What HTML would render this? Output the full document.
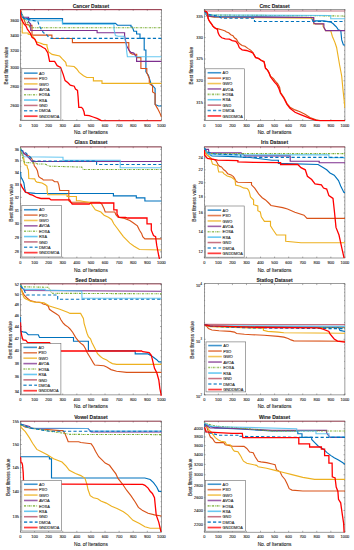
<!DOCTYPE html><html><head><meta charset="utf-8"><title>Convergence curves</title>
<style>html,body{margin:0;padding:0;background:#fff;}svg{display:block;}text{font-family:"Liberation Sans", sans-serif;stroke:#333;stroke-width:0.1px;}</style></head><body>
<svg width="354" height="550" viewBox="0 0 354 550">
<rect x="0" y="0" width="354" height="550" fill="#fff"/>
<clipPath id="c1"><rect x="20.15" y="8.4" width="141.55" height="113.2"/></clipPath>
<text x="90.92" y="7.9" font-size="5" font-weight="bold" text-anchor="middle" fill="#1a1a1a">Cancer Dataset</text>
<rect x="20.45" y="9.4" width="140.95" height="111.2" fill="none" stroke="#5a5a5a" stroke-width="0.6"/>
<path d="M20.45 120.6v-1.4M20.45 9.4v1.4M34.55 120.6v-1.4M34.55 9.4v1.4M48.64 120.6v-1.4M48.64 9.4v1.4M62.73 120.6v-1.4M62.73 9.4v1.4M76.83 120.6v-1.4M76.83 9.4v1.4M90.93 120.6v-1.4M90.93 9.4v1.4M105.02 120.6v-1.4M105.02 9.4v1.4M119.12 120.6v-1.4M119.12 9.4v1.4M133.21 120.6v-1.4M133.21 9.4v1.4M147.31 120.6v-1.4M147.31 9.4v1.4M161.4 120.6v-1.4M161.4 9.4v1.4M20.45 20.14h1.4M161.4 20.14h-1.4M20.45 35.16h1.4M161.4 35.16h-1.4M20.45 51.09h1.4M161.4 51.09h-1.4M20.45 68.05h1.4M161.4 68.05h-1.4M20.45 86.18h1.4M161.4 86.18h-1.4M20.45 105.66h1.4M161.4 105.66h-1.4M20.45 115.96h0.8M161.4 115.96h-0.8M20.45 110.76h0.8M161.4 110.76h-0.8M20.45 100.65h0.8M161.4 100.65h-0.8M20.45 95.74h0.8M161.4 95.74h-0.8M20.45 90.92h0.8M161.4 90.92h-0.8M20.45 81.53h0.8M161.4 81.53h-0.8M20.45 76.96h0.8M161.4 76.96h-0.8M20.45 72.47h0.8M161.4 72.47h-0.8M20.45 63.71h0.8M161.4 63.71h-0.8M20.45 59.43h0.8M161.4 59.43h-0.8M20.45 55.23h0.8M161.4 55.23h-0.8M20.45 47.02h0.8M161.4 47.02h-0.8M20.45 43h0.8M161.4 43h-0.8M20.45 39.05h0.8M161.4 39.05h-0.8M20.45 31.32h0.8M161.4 31.32h-0.8M20.45 27.54h0.8M161.4 27.54h-0.8M20.45 23.81h0.8M161.4 23.81h-0.8M20.45 16.51h0.8M161.4 16.51h-0.8M20.45 12.94h0.8M161.4 12.94h-0.8" stroke="#5a5a5a" stroke-width="0.5" fill="none"/>
<g clip-path="url(#c1)" fill="none" stroke-linejoin="miter" stroke-linecap="butt">
<polyline points="20.5,11.5 22.2,17.2 24.4,18.6 62.5,18.6 62.5,23.3 115.4,23.3 117.5,25.2 131,25.2 131,27 132.4,27 133.8,31.2 136.6,31.2 136.6,34 140,34 140,38.4 144.2,38.4 144.2,50 145.9,50 145.9,71.8 148.4,75.2 150.9,83.5 155.1,88.5 155.1,104.4 158.5,106 161.5,106" stroke="#0072BD" stroke-width="1.15"/>
<polyline points="20.5,11 23.5,18.2 25.8,24.2 29.9,25.4 32,25.4 32,35.1 51.9,35.1 51.9,38.5 72.4,38.5 72.4,42.6 128.8,42.6 128.8,49.6 130.3,53.1 132.4,54.2 136.7,54.2 136.7,57.6 140.9,57.6 140.9,68.5 146.8,68.5 146.8,72.6 149.3,78.5 149.3,83.5 152.6,86 152.6,91.9 155.1,93.5 155.1,104.4 157.6,108.6 160.1,113.6 161.5,117" stroke="#D95319" stroke-width="1.15"/>
<polyline points="20.5,11.4 22.2,19.9 22.2,33 28.2,33 28.2,34.3 30,34.5 32.4,36 34.1,38.1 35.4,40.2 36.2,41.9 39.2,42.7 41.7,43.6 43.4,44.4 47,44.8 47,46.5 48.6,52 52.1,54.4 59.7,56 62.3,58.9 65.7,62.3 66.5,65.7 74.1,66.5 76.7,69 79.2,72.4 83.5,75.8 86.8,77.5 93.4,77.5 93.4,80.8 102,80.8 102,83.3 161.5,83.3" stroke="#EDB120" stroke-width="1.15"/>
<polyline points="20.5,10.5 22.2,17.2 28.6,17.3 28.6,22 30.7,24 30.7,30.5 97.1,30.5 97.1,32.7 124.6,32.7 124.6,35.5 126.7,46.1 129.5,51 131,52.4 133.8,53.1 136.6,57.4 136.6,61.4 161.5,61.4" stroke="#7E2F8E" stroke-width="1.15"/>
<polyline points="20.5,10 22.9,15.8 28.6,24.2 30,27.8 161.5,27.8" stroke="#77AC30" stroke-width="1.1" stroke-dasharray="2 0.9 0.7 0.9"/>
<polyline points="20.5,12 23.6,17.9 29.3,20.7 62.5,20.7 62.5,24.2 114,24.2 114,29.1 115.4,35.5 118.2,36.2 123.9,36.2 126,43.2 126.7,51.7 127.4,56.7 161.5,56.7" stroke="#4DBEEE" stroke-width="1.15" stroke-opacity="0.85"/>
<polyline points="20.45,9.6 161.4,9.6" stroke="#A2142F" stroke-width="1.1" stroke-opacity="0.6"/>
<polyline points="20.5,12 24,18.6 37.8,21.4 39.2,25.7 41.3,29.2 43.4,32.7 46.2,34.1 48.4,37 51.2,38.4 161.5,38.4" stroke="#0072BD" stroke-width="1.15" stroke-dasharray="3.2 2.2"/>
<polyline points="20.5,10 20.5,17.3 22.7,21.6 24.4,24.5 25.6,25.4 26.5,27.1 27.3,29.2 29,31.3 30.3,33.4 31.1,35.1 32,37.2 33.3,38.1 35,39.4 36.2,41.9 37.1,44.4 39.2,45.3 41.1,46.2 43,47.5 45.3,48.7 47.9,53 49.6,61.4 54.6,61.4 57.2,65.7 60.6,67.4 63.1,74.1 65.1,80.6 67.7,82.6 70.3,85.2 74.2,86.2 75.5,89.1 77.5,90.4 78.1,96.9 78.8,107.3 81.4,107.3 82.7,108.6 84,111.8 84.6,115.1 89.2,115.7 93.1,117 97,118.3 99.6,119.6 101.5,120.9 161.5,120.9" stroke="#FF0000" stroke-width="1.3"/>
</g>
<text x="20.45" y="126.7" font-size="4.2" text-anchor="middle" fill="#141414" textLength="2.2" lengthAdjust="spacingAndGlyphs">0</text>
<text x="34.55" y="126.7" font-size="4.2" text-anchor="middle" fill="#141414" textLength="6.59" lengthAdjust="spacingAndGlyphs">100</text>
<text x="48.64" y="126.7" font-size="4.2" text-anchor="middle" fill="#141414" textLength="6.59" lengthAdjust="spacingAndGlyphs">200</text>
<text x="62.73" y="126.7" font-size="4.2" text-anchor="middle" fill="#141414" textLength="6.59" lengthAdjust="spacingAndGlyphs">300</text>
<text x="76.83" y="126.7" font-size="4.2" text-anchor="middle" fill="#141414" textLength="6.59" lengthAdjust="spacingAndGlyphs">400</text>
<text x="90.93" y="126.7" font-size="4.2" text-anchor="middle" fill="#141414" textLength="6.59" lengthAdjust="spacingAndGlyphs">500</text>
<text x="105.02" y="126.7" font-size="4.2" text-anchor="middle" fill="#141414" textLength="6.59" lengthAdjust="spacingAndGlyphs">600</text>
<text x="119.12" y="126.7" font-size="4.2" text-anchor="middle" fill="#141414" textLength="6.59" lengthAdjust="spacingAndGlyphs">700</text>
<text x="133.21" y="126.7" font-size="4.2" text-anchor="middle" fill="#141414" textLength="6.59" lengthAdjust="spacingAndGlyphs">800</text>
<text x="147.31" y="126.7" font-size="4.2" text-anchor="middle" fill="#141414" textLength="6.59" lengthAdjust="spacingAndGlyphs">900</text>
<text x="161.4" y="126.7" font-size="4.2" text-anchor="middle" fill="#141414" textLength="8.78" lengthAdjust="spacingAndGlyphs">1000</text>
<text x="90.92" y="134.1" font-size="4.8" text-anchor="middle" fill="#141414">No. of Iterations</text>
<text x="19.05" y="21.54" font-size="4.2" text-anchor="end" fill="#141414" textLength="8.78" lengthAdjust="spacingAndGlyphs">3600</text>
<text x="19.05" y="36.56" font-size="4.2" text-anchor="end" fill="#141414" textLength="8.78" lengthAdjust="spacingAndGlyphs">3400</text>
<text x="19.05" y="52.49" font-size="4.2" text-anchor="end" fill="#141414" textLength="8.78" lengthAdjust="spacingAndGlyphs">3200</text>
<text x="19.05" y="69.45" font-size="4.2" text-anchor="end" fill="#141414" textLength="8.78" lengthAdjust="spacingAndGlyphs">3000</text>
<text x="19.05" y="87.58" font-size="4.2" text-anchor="end" fill="#141414" textLength="8.78" lengthAdjust="spacingAndGlyphs">2800</text>
<text x="19.05" y="107.06" font-size="4.2" text-anchor="end" fill="#141414" textLength="8.78" lengthAdjust="spacingAndGlyphs">2600</text>
<text x="8.2" y="65.6" font-size="4.8" text-anchor="middle" fill="#141414" transform="rotate(-90 8.2 65.6)">Best fitness value</text>
<rect x="21.8" y="68.4" width="39.1" height="51.8" fill="#fff" stroke="#6a6a6a" stroke-width="0.6"/>
<line x1="24" y1="73.15" x2="37.6" y2="73.15" stroke="#0072BD" stroke-width="1.6" stroke-opacity="0.75"/>
<text x="39" y="74.8" font-size="4.25" fill="#141414" textLength="5.61" lengthAdjust="spacingAndGlyphs">AO</text>
<line x1="24" y1="78.53" x2="37.6" y2="78.53" stroke="#D95319" stroke-width="1.6" stroke-opacity="0.75"/>
<text x="39" y="80.18" font-size="4.25" fill="#141414" textLength="8.19" lengthAdjust="spacingAndGlyphs">PSO</text>
<line x1="24" y1="83.91" x2="37.6" y2="83.91" stroke="#EDB120" stroke-width="1.6" stroke-opacity="0.75"/>
<text x="39" y="85.56" font-size="4.25" fill="#141414" textLength="9.7" lengthAdjust="spacingAndGlyphs">GWO</text>
<line x1="24" y1="89.29" x2="37.6" y2="89.29" stroke="#7E2F8E" stroke-width="1.6" stroke-opacity="0.75"/>
<text x="39" y="90.94" font-size="4.25" fill="#141414" textLength="10.78" lengthAdjust="spacingAndGlyphs">AVOA</text>
<line x1="24" y1="94.67" x2="37.6" y2="94.67" stroke="#77AC30" stroke-width="1.55" stroke-dasharray="2 0.9 0.7 0.9" stroke-opacity="0.75"/>
<text x="39" y="96.32" font-size="4.25" fill="#141414" textLength="10.78" lengthAdjust="spacingAndGlyphs">EOSA</text>
<line x1="24" y1="100.05" x2="37.6" y2="100.05" stroke="#4DBEEE" stroke-width="1.6" stroke-opacity="0.85"/>
<text x="39" y="101.7" font-size="4.25" fill="#141414" textLength="7.98" lengthAdjust="spacingAndGlyphs">RSA</text>
<line x1="24" y1="105.43" x2="37.6" y2="105.43" stroke="#A2142F" stroke-width="1.55" stroke-opacity="0.6"/>
<text x="39" y="107.08" font-size="4.25" fill="#141414" textLength="8.62" lengthAdjust="spacingAndGlyphs">GND</text>
<line x1="24" y1="110.81" x2="37.6" y2="110.81" stroke="#0072BD" stroke-width="1.6" stroke-dasharray="3.2 2.2" stroke-opacity="0.75"/>
<text x="39" y="112.46" font-size="4.25" fill="#141414" textLength="11.64" lengthAdjust="spacingAndGlyphs">DMOA</text>
<line x1="24" y1="116.19" x2="37.6" y2="116.19" stroke="#FF0000" stroke-width="1.75" stroke-opacity="0.75"/>
<text x="39" y="117.84" font-size="4.25" fill="#141414" textLength="20.26" lengthAdjust="spacingAndGlyphs">GNDDMOA</text>
<clipPath id="c2"><rect x="204" y="8.4" width="141.2" height="113.2"/></clipPath>
<text x="274.6" y="7.9" font-size="5" font-weight="bold" text-anchor="middle" fill="#1a1a1a">Cmc Dataset</text>
<rect x="204.3" y="9.4" width="140.6" height="111.2" fill="none" stroke="#5a5a5a" stroke-width="0.6"/>
<path d="M204.3 120.6v-1.4M204.3 9.4v1.4M218.36 120.6v-1.4M218.36 9.4v1.4M232.42 120.6v-1.4M232.42 9.4v1.4M246.48 120.6v-1.4M246.48 9.4v1.4M260.54 120.6v-1.4M260.54 9.4v1.4M274.6 120.6v-1.4M274.6 9.4v1.4M288.66 120.6v-1.4M288.66 9.4v1.4M302.72 120.6v-1.4M302.72 9.4v1.4M316.78 120.6v-1.4M316.78 9.4v1.4M330.84 120.6v-1.4M330.84 9.4v1.4M344.9 120.6v-1.4M344.9 9.4v1.4M204.3 16.45h1.4M344.9 16.45h-1.4M204.3 37.57h1.4M344.9 37.57h-1.4M204.3 59.01h1.4M344.9 59.01h-1.4M204.3 80.78h1.4M344.9 80.78h-1.4M204.3 102.9h1.4M344.9 102.9h-1.4M204.3 116.34h0.8M344.9 116.34h-0.8M204.3 111.84h0.8M344.9 111.84h-0.8M204.3 107.36h0.8M344.9 107.36h-0.8M204.3 98.45h0.8M344.9 98.45h-0.8M204.3 94.01h0.8M344.9 94.01h-0.8M204.3 89.59h0.8M344.9 89.59h-0.8M204.3 85.18h0.8M344.9 85.18h-0.8M204.3 76.4h0.8M344.9 76.4h-0.8M204.3 72.03h0.8M344.9 72.03h-0.8M204.3 67.68h0.8M344.9 67.68h-0.8M204.3 63.34h0.8M344.9 63.34h-0.8M204.3 54.69h0.8M344.9 54.69h-0.8M204.3 50.39h0.8M344.9 50.39h-0.8M204.3 46.1h0.8M344.9 46.1h-0.8M204.3 41.83h0.8M344.9 41.83h-0.8M204.3 33.32h0.8M344.9 33.32h-0.8M204.3 29.08h0.8M344.9 29.08h-0.8M204.3 24.86h0.8M344.9 24.86h-0.8M204.3 20.65h0.8M344.9 20.65h-0.8M204.3 12.26h0.8M344.9 12.26h-0.8" stroke="#5a5a5a" stroke-width="0.5" fill="none"/>
<g clip-path="url(#c2)" fill="none" stroke-linejoin="miter" stroke-linecap="butt">
<polyline points="204.5,11 206.5,15 215,16.5 311.2,17.5 312.9,20.9 323.9,20.9 330.7,22.1 333.2,23.8 334.9,25.5 336.6,27.2 338.3,29.7 340.8,30.6 341.7,39.9 343.4,45 345,45" stroke="#0072BD" stroke-width="1.15"/>
<polyline points="204.5,11 206.5,11.8 207.4,13.5 207.9,18 208.7,20 209.6,21.3 211.8,24.4 213.2,26.5 215.3,28.2 217.4,28.6 222.4,30 225.2,31 226.6,32.1 228.7,32.8 230.8,34.7 233,35.7 234.4,37.8 236.5,39.2 237.9,42 240,44.1 242.1,45.5 245,46.2 247.8,48.4 250.6,50.1 252.8,52.3 255.6,57.2 258.5,58.6 261.3,60.2 264.1,61.3 265.5,67.8 267.7,70.4 269.1,72.6 270.5,76.3 273.5,78.6 275.5,81.3 277.6,83.6 279.6,87.3 280.6,92.5 284,97.6 287,103.6 290,107.2 295,109.9 300,111.7 305,114.3 310,117.6 316,119.8 320,120.6 345,120.6" stroke="#D95319" stroke-width="1.15"/>
<polyline points="204.5,11 207,16 215,17.5 313.7,18.2 313.7,23.8 323,23.8 323,26.3 325.6,30.6 330.7,30.6 332.4,36.5 334.9,42.4 336.6,47.5 339.6,65 341.7,76 343,90 345,108" stroke="#EDB120" stroke-width="1.15"/>
<polyline points="204.5,11 207,16 215,17 313.7,17.5 313.7,23 315.4,23.8 323.9,23.8 323.9,27.2 325.6,30.6 345,30.6" stroke="#7E2F8E" stroke-width="1.15"/>
<polyline points="204.5,10.5 207,15 345,16" stroke="#77AC30" stroke-width="1.1" stroke-dasharray="2 0.9 0.7 0.9"/>
<polyline points="204.5,11 206,14.8 330.7,15.5 330.7,18.7 345,18.7" stroke="#4DBEEE" stroke-width="1.15" stroke-opacity="0.85"/>
<polyline points="204.3,11 344.9,11" stroke="#A2142F" stroke-width="1.1" stroke-opacity="0.6"/>
<polyline points="204.5,11 207,14 219,16.5 221.5,18.2 254.5,18.2 254.5,21.5 345,21.5" stroke="#0072BD" stroke-width="1.15" stroke-dasharray="3.2 2.2"/>
<polyline points="204.5,11 206.5,11.8 207.6,13.5 208.1,18 208.9,20 209.6,21.3 211.8,24.4 213.2,26.5 215.3,28.2 217.4,29.3 218.1,32.8 219.5,35.7 221.7,37.8 225.2,38.9 229.4,39.2 232.2,40.6 235.8,41.3 237.9,44.1 239.3,47.7 242.1,49.8 246.4,50.5 250.6,51.9 252.8,53 255.6,57.7 258.5,58.4 261.3,60.5 264.1,62 265.5,68.3 267.7,70.4 269.1,73.2 270.5,76.8 272.6,79.6 274.7,82.4 276.8,84.5 279,88.8 280.4,93 284,98.5 287,104.3 290,108.3 295,112.3 300,114.3 305,116.3 310,118.3 316,120.3 320,120.7 345,120.7" stroke="#FF0000" stroke-width="1.3"/>
</g>
<text x="204.3" y="126.7" font-size="4.2" text-anchor="middle" fill="#141414" textLength="2.2" lengthAdjust="spacingAndGlyphs">0</text>
<text x="218.36" y="126.7" font-size="4.2" text-anchor="middle" fill="#141414" textLength="6.59" lengthAdjust="spacingAndGlyphs">100</text>
<text x="232.42" y="126.7" font-size="4.2" text-anchor="middle" fill="#141414" textLength="6.59" lengthAdjust="spacingAndGlyphs">200</text>
<text x="246.48" y="126.7" font-size="4.2" text-anchor="middle" fill="#141414" textLength="6.59" lengthAdjust="spacingAndGlyphs">300</text>
<text x="260.54" y="126.7" font-size="4.2" text-anchor="middle" fill="#141414" textLength="6.59" lengthAdjust="spacingAndGlyphs">400</text>
<text x="274.6" y="126.7" font-size="4.2" text-anchor="middle" fill="#141414" textLength="6.59" lengthAdjust="spacingAndGlyphs">500</text>
<text x="288.66" y="126.7" font-size="4.2" text-anchor="middle" fill="#141414" textLength="6.59" lengthAdjust="spacingAndGlyphs">600</text>
<text x="302.72" y="126.7" font-size="4.2" text-anchor="middle" fill="#141414" textLength="6.59" lengthAdjust="spacingAndGlyphs">700</text>
<text x="316.78" y="126.7" font-size="4.2" text-anchor="middle" fill="#141414" textLength="6.59" lengthAdjust="spacingAndGlyphs">800</text>
<text x="330.84" y="126.7" font-size="4.2" text-anchor="middle" fill="#141414" textLength="6.59" lengthAdjust="spacingAndGlyphs">900</text>
<text x="344.9" y="126.7" font-size="4.2" text-anchor="middle" fill="#141414" textLength="8.78" lengthAdjust="spacingAndGlyphs">1000</text>
<text x="274.6" y="134.1" font-size="4.8" text-anchor="middle" fill="#141414">No. of Iterations</text>
<text x="202.9" y="17.85" font-size="4.2" text-anchor="end" fill="#141414" textLength="6.59" lengthAdjust="spacingAndGlyphs">335</text>
<text x="202.9" y="38.97" font-size="4.2" text-anchor="end" fill="#141414" textLength="6.59" lengthAdjust="spacingAndGlyphs">330</text>
<text x="202.9" y="60.41" font-size="4.2" text-anchor="end" fill="#141414" textLength="6.59" lengthAdjust="spacingAndGlyphs">325</text>
<text x="202.9" y="82.18" font-size="4.2" text-anchor="end" fill="#141414" textLength="6.59" lengthAdjust="spacingAndGlyphs">320</text>
<text x="202.9" y="104.3" font-size="4.2" text-anchor="end" fill="#141414" textLength="6.59" lengthAdjust="spacingAndGlyphs">315</text>
<text x="193.45" y="65.6" font-size="4.8" text-anchor="middle" fill="#141414" transform="rotate(-90 193.45 65.6)">Best fitness value</text>
<rect x="205.4" y="68.8" width="39.2" height="51.8" fill="#fff" stroke="#6a6a6a" stroke-width="0.6"/>
<line x1="207.6" y1="72.75" x2="221.2" y2="72.75" stroke="#0072BD" stroke-width="1.6" stroke-opacity="0.75"/>
<text x="222.6" y="74.4" font-size="4.25" fill="#141414" textLength="5.61" lengthAdjust="spacingAndGlyphs">AO</text>
<line x1="207.6" y1="78.15" x2="221.2" y2="78.15" stroke="#D95319" stroke-width="1.6" stroke-opacity="0.75"/>
<text x="222.6" y="79.8" font-size="4.25" fill="#141414" textLength="8.19" lengthAdjust="spacingAndGlyphs">PSO</text>
<line x1="207.6" y1="83.55" x2="221.2" y2="83.55" stroke="#EDB120" stroke-width="1.6" stroke-opacity="0.75"/>
<text x="222.6" y="85.2" font-size="4.25" fill="#141414" textLength="9.7" lengthAdjust="spacingAndGlyphs">GWO</text>
<line x1="207.6" y1="88.95" x2="221.2" y2="88.95" stroke="#7E2F8E" stroke-width="1.6" stroke-opacity="0.75"/>
<text x="222.6" y="90.6" font-size="4.25" fill="#141414" textLength="10.78" lengthAdjust="spacingAndGlyphs">AVOA</text>
<line x1="207.6" y1="94.35" x2="221.2" y2="94.35" stroke="#77AC30" stroke-width="1.55" stroke-dasharray="2 0.9 0.7 0.9" stroke-opacity="0.75"/>
<text x="222.6" y="96" font-size="4.25" fill="#141414" textLength="10.78" lengthAdjust="spacingAndGlyphs">EOSA</text>
<line x1="207.6" y1="99.75" x2="221.2" y2="99.75" stroke="#4DBEEE" stroke-width="1.6" stroke-opacity="0.85"/>
<text x="222.6" y="101.4" font-size="4.25" fill="#141414" textLength="7.98" lengthAdjust="spacingAndGlyphs">RSA</text>
<line x1="207.6" y1="105.15" x2="221.2" y2="105.15" stroke="#A2142F" stroke-width="1.55" stroke-opacity="0.6"/>
<text x="222.6" y="106.8" font-size="4.25" fill="#141414" textLength="8.62" lengthAdjust="spacingAndGlyphs">GND</text>
<line x1="207.6" y1="110.55" x2="221.2" y2="110.55" stroke="#0072BD" stroke-width="1.6" stroke-dasharray="3.2 2.2" stroke-opacity="0.75"/>
<text x="222.6" y="112.2" font-size="4.25" fill="#141414" textLength="11.64" lengthAdjust="spacingAndGlyphs">DMOA</text>
<line x1="207.6" y1="115.95" x2="221.2" y2="115.95" stroke="#FF0000" stroke-width="1.75" stroke-opacity="0.75"/>
<text x="222.6" y="117.6" font-size="4.25" fill="#141414" textLength="20.26" lengthAdjust="spacingAndGlyphs">GNDDMOA</text>
<clipPath id="c3"><rect x="20.15" y="145.8" width="141.55" height="113.2"/></clipPath>
<text x="90.92" y="144.3" font-size="5" font-weight="bold" text-anchor="middle" fill="#1a1a1a">Glass Dataset</text>
<rect x="20.45" y="146.8" width="140.95" height="111.2" fill="none" stroke="#5a5a5a" stroke-width="0.6"/>
<path d="M20.45 258v-1.4M20.45 146.8v1.4M34.55 258v-1.4M34.55 146.8v1.4M48.64 258v-1.4M48.64 146.8v1.4M62.73 258v-1.4M62.73 146.8v1.4M76.83 258v-1.4M76.83 146.8v1.4M90.93 258v-1.4M90.93 146.8v1.4M105.02 258v-1.4M105.02 146.8v1.4M119.12 258v-1.4M119.12 146.8v1.4M133.21 258v-1.4M133.21 146.8v1.4M147.31 258v-1.4M147.31 146.8v1.4M161.4 258v-1.4M161.4 146.8v1.4M20.45 149.27h1.4M161.4 149.27h-1.4M20.45 160.77h1.4M161.4 160.77h-1.4M20.45 172.6h1.4M161.4 172.6h-1.4M20.45 184.78h1.4M161.4 184.78h-1.4M20.45 197.34h1.4M161.4 197.34h-1.4M20.45 210.3h1.4M161.4 210.3h-1.4M20.45 223.68h1.4M161.4 223.68h-1.4M20.45 237.51h1.4M161.4 237.51h-1.4M20.45 251.84h1.4M161.4 251.84h-1.4M20.45 244.61h0.8M161.4 244.61h-0.8M20.45 230.54h0.8M161.4 230.54h-0.8M20.45 216.93h0.8M161.4 216.93h-0.8M20.45 203.77h0.8M161.4 203.77h-0.8M20.45 191.01h0.8M161.4 191.01h-0.8M20.45 178.65h0.8M161.4 178.65h-0.8M20.45 166.64h0.8M161.4 166.64h-0.8M20.45 154.98h0.8M161.4 154.98h-0.8" stroke="#5a5a5a" stroke-width="0.5" fill="none"/>
<g clip-path="url(#c3)" fill="none" stroke-linejoin="miter" stroke-linecap="butt">
<polyline points="20.5,171.7 21,177.1 22,178.9 23,180.7 23.9,183 24.8,188.9 25.7,192.5 29.8,192.9 35.2,193.4 113.4,193.5 113.4,195.8 136.3,195.8 136.3,197.9 144.9,197.9 144.9,201 161.5,201" stroke="#0072BD" stroke-width="1.15"/>
<polyline points="20.5,151 23.4,153.6 27,155 28.8,155.9 31.1,157.7 32.5,160 33.4,161.3 34.3,165.8 36.1,168.1 37.4,170.8 38.3,174.9 38.8,176.7 40.6,178 42.4,178.9 43.3,180 52.5,180 54.6,181.7 57.7,181.7 58.8,184.8 59.8,190.5 68.8,190.5 68.8,200.7 70.5,202.2 99.8,202.2 102,204.4 104.1,208.7 105.2,212 114.8,212 115.9,214.7 118,217.3 124.5,218.4 129.8,220.5 133.1,222.7 137.4,225.9 139.5,230.2 141.6,233.4 142.7,236.6 144.9,238.8 161.5,238.8" stroke="#D95319" stroke-width="1.15"/>
<polyline points="20.5,150 21.2,151.8 23,155.4 23.9,159 24.3,163.6 25.2,164.9 27,165.4 27.5,168.1 28.4,169.9 28.8,178.5 34.7,178.9 35.6,181.2 37,182.1 42,183 45.1,184.8 46.9,186.2 47.4,193.4 47.8,194.6 67.1,194.8 67.1,196.5 76.4,196.5 76.4,200.7 79.8,200.7 88,202.3 90.8,203 92.3,205.5 95.3,209.8 100.9,212 104.1,215.2 108.4,217.3 111.6,219.5 113.8,223.8 117,228 120.2,232.3 123.4,236.6 126.6,239.8 129.8,243.1 134.1,246.3 139.5,249.5 161.5,250" stroke="#EDB120" stroke-width="1.15"/>
<polyline points="20.5,149 24,153 26,155 29,158 32,161.5 161.5,161.5" stroke="#7E2F8E" stroke-width="1.15"/>
<polyline points="20.5,148 21.6,152.7 22.5,157.2 23.4,160.8 24.8,162.5 33.4,162.9 36.1,163.1 37.4,164 45.1,164 47.8,165.6 50,166.2 81.8,167.1 82.9,169.5 161.5,169.5" stroke="#77AC30" stroke-width="1.1" stroke-dasharray="2 0.9 0.7 0.9"/>
<polyline points="20.5,148.5 22,152 24,156.8 63,157.2 63,160.3 120.2,160.3 120.2,167.7 161.5,167.7" stroke="#4DBEEE" stroke-width="1.15" stroke-opacity="0.85"/>
<polyline points="20.45,147 161.4,147" stroke="#A2142F" stroke-width="1.1" stroke-opacity="0.6"/>
<polyline points="20.5,150 25,152 30,157 33,161 96.6,161.2 96.6,164.5 161.5,164.5" stroke="#0072BD" stroke-width="1.15" stroke-dasharray="3.2 2.2"/>
<polyline points="20.5,183.5 22.1,187.1 23.9,189.8 25.2,192 27.9,192.9 29.8,194.3 32.5,195.2 36.8,197.5 41,198.5 49.3,198.5 51,199.9 69.7,199.9 70.5,201.6 72.2,204 89.2,204 90.8,203 113.8,203 113.8,209.8 117,209.8 117,214.1 119.1,217.3 125.6,217.3 127.7,218 147,218 147,223.8 151.3,223.8 151.3,230.2 153.5,235.6 155.6,236.6 156.7,245.2 158.8,256 159.5,259" stroke="#FF0000" stroke-width="1.3"/>
</g>
<text x="20.45" y="264.1" font-size="4.2" text-anchor="middle" fill="#141414" textLength="2.2" lengthAdjust="spacingAndGlyphs">0</text>
<text x="34.55" y="264.1" font-size="4.2" text-anchor="middle" fill="#141414" textLength="6.59" lengthAdjust="spacingAndGlyphs">100</text>
<text x="48.64" y="264.1" font-size="4.2" text-anchor="middle" fill="#141414" textLength="6.59" lengthAdjust="spacingAndGlyphs">200</text>
<text x="62.73" y="264.1" font-size="4.2" text-anchor="middle" fill="#141414" textLength="6.59" lengthAdjust="spacingAndGlyphs">300</text>
<text x="76.83" y="264.1" font-size="4.2" text-anchor="middle" fill="#141414" textLength="6.59" lengthAdjust="spacingAndGlyphs">400</text>
<text x="90.93" y="264.1" font-size="4.2" text-anchor="middle" fill="#141414" textLength="6.59" lengthAdjust="spacingAndGlyphs">500</text>
<text x="105.02" y="264.1" font-size="4.2" text-anchor="middle" fill="#141414" textLength="6.59" lengthAdjust="spacingAndGlyphs">600</text>
<text x="119.12" y="264.1" font-size="4.2" text-anchor="middle" fill="#141414" textLength="6.59" lengthAdjust="spacingAndGlyphs">700</text>
<text x="133.21" y="264.1" font-size="4.2" text-anchor="middle" fill="#141414" textLength="6.59" lengthAdjust="spacingAndGlyphs">800</text>
<text x="147.31" y="264.1" font-size="4.2" text-anchor="middle" fill="#141414" textLength="6.59" lengthAdjust="spacingAndGlyphs">900</text>
<text x="161.4" y="264.1" font-size="4.2" text-anchor="middle" fill="#141414" textLength="8.78" lengthAdjust="spacingAndGlyphs">1000</text>
<text x="90.92" y="271.5" font-size="4.8" text-anchor="middle" fill="#141414">No. of Iterations</text>
<text x="19.05" y="150.67" font-size="4.2" text-anchor="end" fill="#141414" textLength="4.39" lengthAdjust="spacingAndGlyphs">36</text>
<text x="19.05" y="162.17" font-size="4.2" text-anchor="end" fill="#141414" textLength="4.39" lengthAdjust="spacingAndGlyphs">35</text>
<text x="19.05" y="174" font-size="4.2" text-anchor="end" fill="#141414" textLength="4.39" lengthAdjust="spacingAndGlyphs">34</text>
<text x="19.05" y="186.18" font-size="4.2" text-anchor="end" fill="#141414" textLength="4.39" lengthAdjust="spacingAndGlyphs">33</text>
<text x="19.05" y="198.74" font-size="4.2" text-anchor="end" fill="#141414" textLength="4.39" lengthAdjust="spacingAndGlyphs">32</text>
<text x="19.05" y="211.7" font-size="4.2" text-anchor="end" fill="#141414" textLength="4.39" lengthAdjust="spacingAndGlyphs">31</text>
<text x="19.05" y="225.08" font-size="4.2" text-anchor="end" fill="#141414" textLength="4.39" lengthAdjust="spacingAndGlyphs">30</text>
<text x="19.05" y="238.91" font-size="4.2" text-anchor="end" fill="#141414" textLength="4.39" lengthAdjust="spacingAndGlyphs">29</text>
<text x="19.05" y="253.24" font-size="4.2" text-anchor="end" fill="#141414" textLength="4.39" lengthAdjust="spacingAndGlyphs">28</text>
<text x="12.55" y="203" font-size="4.8" text-anchor="middle" fill="#141414" transform="rotate(-90 12.55 203)">Best fitness value</text>
<rect x="21.8" y="205.4" width="39.8" height="51.6" fill="#fff" stroke="#6a6a6a" stroke-width="0.6"/>
<line x1="24" y1="209.75" x2="37.6" y2="209.75" stroke="#0072BD" stroke-width="1.6" stroke-opacity="0.75"/>
<text x="39" y="211.4" font-size="4.25" fill="#141414" textLength="5.61" lengthAdjust="spacingAndGlyphs">AO</text>
<line x1="24" y1="215.11" x2="37.6" y2="215.11" stroke="#D95319" stroke-width="1.6" stroke-opacity="0.75"/>
<text x="39" y="216.76" font-size="4.25" fill="#141414" textLength="8.19" lengthAdjust="spacingAndGlyphs">PSO</text>
<line x1="24" y1="220.47" x2="37.6" y2="220.47" stroke="#EDB120" stroke-width="1.6" stroke-opacity="0.75"/>
<text x="39" y="222.12" font-size="4.25" fill="#141414" textLength="9.7" lengthAdjust="spacingAndGlyphs">GWO</text>
<line x1="24" y1="225.83" x2="37.6" y2="225.83" stroke="#7E2F8E" stroke-width="1.6" stroke-opacity="0.75"/>
<text x="39" y="227.48" font-size="4.25" fill="#141414" textLength="10.78" lengthAdjust="spacingAndGlyphs">AVOA</text>
<line x1="24" y1="231.19" x2="37.6" y2="231.19" stroke="#77AC30" stroke-width="1.55" stroke-dasharray="2 0.9 0.7 0.9" stroke-opacity="0.75"/>
<text x="39" y="232.84" font-size="4.25" fill="#141414" textLength="10.78" lengthAdjust="spacingAndGlyphs">EOSA</text>
<line x1="24" y1="236.55" x2="37.6" y2="236.55" stroke="#4DBEEE" stroke-width="1.6" stroke-opacity="0.85"/>
<text x="39" y="238.2" font-size="4.25" fill="#141414" textLength="7.98" lengthAdjust="spacingAndGlyphs">RSA</text>
<line x1="24" y1="241.91" x2="37.6" y2="241.91" stroke="#A2142F" stroke-width="1.55" stroke-opacity="0.6"/>
<text x="39" y="243.56" font-size="4.25" fill="#141414" textLength="8.62" lengthAdjust="spacingAndGlyphs">GND</text>
<line x1="24" y1="247.27" x2="37.6" y2="247.27" stroke="#0072BD" stroke-width="1.6" stroke-dasharray="3.2 2.2" stroke-opacity="0.75"/>
<text x="39" y="248.92" font-size="4.25" fill="#141414" textLength="11.64" lengthAdjust="spacingAndGlyphs">DMOA</text>
<line x1="24" y1="252.63" x2="37.6" y2="252.63" stroke="#FF0000" stroke-width="1.75" stroke-opacity="0.75"/>
<text x="39" y="254.28" font-size="4.25" fill="#141414" textLength="20.26" lengthAdjust="spacingAndGlyphs">GNDDMOA</text>
<clipPath id="c4"><rect x="204" y="145.8" width="141.2" height="113.2"/></clipPath>
<text x="274.6" y="144.3" font-size="5" font-weight="bold" text-anchor="middle" fill="#1a1a1a">Iris Dataset</text>
<rect x="204.3" y="146.8" width="140.6" height="111.2" fill="none" stroke="#5a5a5a" stroke-width="0.6"/>
<path d="M204.3 258v-1.4M204.3 146.8v1.4M218.36 258v-1.4M218.36 146.8v1.4M232.42 258v-1.4M232.42 146.8v1.4M246.48 258v-1.4M246.48 146.8v1.4M260.54 258v-1.4M260.54 146.8v1.4M274.6 258v-1.4M274.6 146.8v1.4M288.66 258v-1.4M288.66 146.8v1.4M302.72 258v-1.4M302.72 146.8v1.4M316.78 258v-1.4M316.78 146.8v1.4M330.84 258v-1.4M330.84 146.8v1.4M344.9 258v-1.4M344.9 146.8v1.4M204.3 158.02h1.4M344.9 158.02h-1.4M204.3 169.83h1.4M344.9 169.83h-1.4M204.3 182.76h1.4M344.9 182.76h-1.4M204.3 197.05h1.4M344.9 197.05h-1.4M204.3 213.03h1.4M344.9 213.03h-1.4M204.3 231.15h1.4M344.9 231.15h-1.4M204.3 252.06h1.4M344.9 252.06h-1.4M204.3 246.52h0.8M344.9 246.52h-0.8M204.3 241.2h0.8M344.9 241.2h-0.8M204.3 236.08h0.8M344.9 236.08h-0.8M204.3 226.39h0.8M344.9 226.39h-0.8M204.3 221.79h0.8M344.9 221.79h-0.8M204.3 217.34h0.8M344.9 217.34h-0.8M204.3 208.86h0.8M344.9 208.86h-0.8M204.3 204.81h0.8M344.9 204.81h-0.8M204.3 200.87h0.8M344.9 200.87h-0.8M204.3 193.33h0.8M344.9 193.33h-0.8M204.3 189.72h0.8M344.9 189.72h-0.8M204.3 186.19h0.8M344.9 186.19h-0.8M204.3 179.41h0.8M344.9 179.41h-0.8M204.3 176.14h0.8M344.9 176.14h-0.8M204.3 172.95h0.8M344.9 172.95h-0.8M204.3 166.78h0.8M344.9 166.78h-0.8M204.3 163.8h0.8M344.9 163.8h-0.8M204.3 160.88h0.8M344.9 160.88h-0.8M204.3 155.22h0.8M344.9 155.22h-0.8M204.3 152.48h0.8M344.9 152.48h-0.8M204.3 149.8h0.8M344.9 149.8h-0.8" stroke="#5a5a5a" stroke-width="0.5" fill="none"/>
<g clip-path="url(#c4)" fill="none" stroke-linejoin="miter" stroke-linecap="butt">
<polyline points="204.5,149 207,153 212,156 228,156.4 250,157.5 272,160.2 278.4,160.2 278.4,163.4 318.1,164.5 323.5,167.7 326.7,169.8 330,173 334.2,175.2 338.5,180.6 340.7,185.9 343.9,192.4 345,192.4" stroke="#0072BD" stroke-width="1.15"/>
<polyline points="204.5,150 206.3,154.5 211.9,159 214.7,159.6 216.4,161.3 218.1,164.7 219.8,166.4 221.5,166.9 223.8,169.8 225.5,170.9 227.7,173.7 231.1,174.9 233.4,176.6 234.5,178.2 236.2,181.6 237.9,182.3 251.5,182.5 251.5,184.8 254.7,188.1 256.9,191.3 259,194.5 262.2,197.7 265.5,199.9 268.7,203 271,205.5 282.7,207.6 287.5,209 294.9,212.2 304,215.2 307,218.3 345,218.3" stroke="#D95319" stroke-width="1.15"/>
<polyline points="204.5,150 206.3,154.5 210.2,157.3 211.3,160.2 212.5,164.1 217.6,165.8 218.1,169.2 218.7,172 222.6,172 223.8,173.7 227.2,176 231.1,177.1 235.1,180 235.6,185 240.2,186.2 243.5,187.9 247.2,188.5 248.5,190 249.4,192.4 250.5,197 253.6,200 253.6,204.7 257.8,206 257.8,210.7 260.3,212 261.3,216.8 264.4,221.3 270.5,221.3 270.5,225.9 273.5,230.5 276.6,235 285.7,235 285.7,241.2 301,242.7 345,242.7" stroke="#EDB120" stroke-width="1.15"/>
<polyline points="204.5,148 205,149.4 208.5,149.4 209,152.9 241,152.9 245,155.9 290.2,155.9 290.2,161.2 319.2,161.2 319.2,162.7 345,162.7" stroke="#7E2F8E" stroke-width="1.15"/>
<polyline points="204.5,148 207,152 210,153.6 345,153.6" stroke="#77AC30" stroke-width="1.1" stroke-dasharray="2 0.9 0.7 0.9"/>
<polyline points="204.5,148 206,152 210,154.8 328.9,154.8 328.9,157.6 345,157.6" stroke="#4DBEEE" stroke-width="1.15" stroke-opacity="0.85"/>
<polyline points="204.3,147 344.9,147" stroke="#A2142F" stroke-width="1.1" stroke-opacity="0.6"/>
<polyline points="204.5,148 207,152 215,154 240.8,155 240.8,157.3 345,157.3" stroke="#0072BD" stroke-width="1.15" stroke-dasharray="3.2 2.2"/>
<polyline points="204.5,150 204.5,155 207.4,158.5 217.6,160.2 237.9,160.7 237.9,161.9 253.6,162.3 280.6,162.7 280.6,164.5 297.8,164.5 301,167.7 305.3,169.8 307.4,176.3 311.7,179.5 315,183.8 321.4,184.8 323.5,188 326.7,189.1 328.9,195.6 333,198.4 334.5,212.2 336,227.4 339,235 342,248.8 343.7,256.4 344,258" stroke="#FF0000" stroke-width="1.3"/>
</g>
<text x="204.3" y="264.1" font-size="4.2" text-anchor="middle" fill="#141414" textLength="2.2" lengthAdjust="spacingAndGlyphs">0</text>
<text x="218.36" y="264.1" font-size="4.2" text-anchor="middle" fill="#141414" textLength="6.59" lengthAdjust="spacingAndGlyphs">100</text>
<text x="232.42" y="264.1" font-size="4.2" text-anchor="middle" fill="#141414" textLength="6.59" lengthAdjust="spacingAndGlyphs">200</text>
<text x="246.48" y="264.1" font-size="4.2" text-anchor="middle" fill="#141414" textLength="6.59" lengthAdjust="spacingAndGlyphs">300</text>
<text x="260.54" y="264.1" font-size="4.2" text-anchor="middle" fill="#141414" textLength="6.59" lengthAdjust="spacingAndGlyphs">400</text>
<text x="274.6" y="264.1" font-size="4.2" text-anchor="middle" fill="#141414" textLength="6.59" lengthAdjust="spacingAndGlyphs">500</text>
<text x="288.66" y="264.1" font-size="4.2" text-anchor="middle" fill="#141414" textLength="6.59" lengthAdjust="spacingAndGlyphs">600</text>
<text x="302.72" y="264.1" font-size="4.2" text-anchor="middle" fill="#141414" textLength="6.59" lengthAdjust="spacingAndGlyphs">700</text>
<text x="316.78" y="264.1" font-size="4.2" text-anchor="middle" fill="#141414" textLength="6.59" lengthAdjust="spacingAndGlyphs">800</text>
<text x="330.84" y="264.1" font-size="4.2" text-anchor="middle" fill="#141414" textLength="6.59" lengthAdjust="spacingAndGlyphs">900</text>
<text x="344.9" y="264.1" font-size="4.2" text-anchor="middle" fill="#141414" textLength="8.78" lengthAdjust="spacingAndGlyphs">1000</text>
<text x="274.6" y="271.5" font-size="4.8" text-anchor="middle" fill="#141414">No. of Iterations</text>
<text x="202.9" y="159.42" font-size="4.2" text-anchor="end" fill="#141414" textLength="4.39" lengthAdjust="spacingAndGlyphs">24</text>
<text x="202.9" y="171.23" font-size="4.2" text-anchor="end" fill="#141414" textLength="4.39" lengthAdjust="spacingAndGlyphs">22</text>
<text x="202.9" y="184.16" font-size="4.2" text-anchor="end" fill="#141414" textLength="4.39" lengthAdjust="spacingAndGlyphs">20</text>
<text x="202.9" y="198.45" font-size="4.2" text-anchor="end" fill="#141414" textLength="4.39" lengthAdjust="spacingAndGlyphs">18</text>
<text x="202.9" y="214.43" font-size="4.2" text-anchor="end" fill="#141414" textLength="4.39" lengthAdjust="spacingAndGlyphs">16</text>
<text x="202.9" y="232.55" font-size="4.2" text-anchor="end" fill="#141414" textLength="4.39" lengthAdjust="spacingAndGlyphs">14</text>
<text x="202.9" y="253.46" font-size="4.2" text-anchor="end" fill="#141414" textLength="4.39" lengthAdjust="spacingAndGlyphs">12</text>
<text x="195.9" y="203" font-size="4.8" text-anchor="middle" fill="#141414" transform="rotate(-90 195.9 203)">Best fitness value</text>
<rect x="205.4" y="206" width="38.8" height="51.2" fill="#fff" stroke="#6a6a6a" stroke-width="0.6"/>
<line x1="207.6" y1="210.15" x2="221.2" y2="210.15" stroke="#0072BD" stroke-width="1.6" stroke-opacity="0.75"/>
<text x="222.6" y="211.8" font-size="4.25" fill="#141414" textLength="5.61" lengthAdjust="spacingAndGlyphs">AO</text>
<line x1="207.6" y1="215.55" x2="221.2" y2="215.55" stroke="#D95319" stroke-width="1.6" stroke-opacity="0.75"/>
<text x="222.6" y="217.2" font-size="4.25" fill="#141414" textLength="8.19" lengthAdjust="spacingAndGlyphs">PSO</text>
<line x1="207.6" y1="220.95" x2="221.2" y2="220.95" stroke="#EDB120" stroke-width="1.6" stroke-opacity="0.75"/>
<text x="222.6" y="222.6" font-size="4.25" fill="#141414" textLength="9.7" lengthAdjust="spacingAndGlyphs">GWO</text>
<line x1="207.6" y1="226.35" x2="221.2" y2="226.35" stroke="#7E2F8E" stroke-width="1.6" stroke-opacity="0.75"/>
<text x="222.6" y="228" font-size="4.25" fill="#141414" textLength="10.78" lengthAdjust="spacingAndGlyphs">AVOA</text>
<line x1="207.6" y1="231.75" x2="221.2" y2="231.75" stroke="#77AC30" stroke-width="1.55" stroke-dasharray="2 0.9 0.7 0.9" stroke-opacity="0.75"/>
<text x="222.6" y="233.4" font-size="4.25" fill="#141414" textLength="10.78" lengthAdjust="spacingAndGlyphs">EOSA</text>
<line x1="207.6" y1="237.15" x2="221.2" y2="237.15" stroke="#4DBEEE" stroke-width="1.6" stroke-opacity="0.85"/>
<text x="222.6" y="238.8" font-size="4.25" fill="#141414" textLength="7.98" lengthAdjust="spacingAndGlyphs">RSA</text>
<line x1="207.6" y1="242.55" x2="221.2" y2="242.55" stroke="#A2142F" stroke-width="1.55" stroke-opacity="0.6"/>
<text x="222.6" y="244.2" font-size="4.25" fill="#141414" textLength="8.62" lengthAdjust="spacingAndGlyphs">GND</text>
<line x1="207.6" y1="247.95" x2="221.2" y2="247.95" stroke="#0072BD" stroke-width="1.6" stroke-dasharray="3.2 2.2" stroke-opacity="0.75"/>
<text x="222.6" y="249.6" font-size="4.25" fill="#141414" textLength="11.64" lengthAdjust="spacingAndGlyphs">DMOA</text>
<line x1="207.6" y1="253.35" x2="221.2" y2="253.35" stroke="#FF0000" stroke-width="1.75" stroke-opacity="0.75"/>
<text x="222.6" y="255" font-size="4.25" fill="#141414" textLength="20.26" lengthAdjust="spacingAndGlyphs">GNDDMOA</text>
<clipPath id="c5"><rect x="20.15" y="282.7" width="141.55" height="113.2"/></clipPath>
<text x="90.92" y="282.3" font-size="5" font-weight="bold" text-anchor="middle" fill="#1a1a1a">Seed Dataset</text>
<rect x="20.45" y="283.7" width="140.95" height="111.2" fill="none" stroke="#5a5a5a" stroke-width="0.6"/>
<path d="M20.45 394.9v-1.4M20.45 283.7v1.4M34.55 394.9v-1.4M34.55 283.7v1.4M48.64 394.9v-1.4M48.64 283.7v1.4M62.73 394.9v-1.4M62.73 283.7v1.4M76.83 394.9v-1.4M76.83 283.7v1.4M90.93 394.9v-1.4M90.93 283.7v1.4M105.02 394.9v-1.4M105.02 283.7v1.4M119.12 394.9v-1.4M119.12 283.7v1.4M133.21 394.9v-1.4M133.21 283.7v1.4M147.31 394.9v-1.4M147.31 283.7v1.4M161.4 394.9v-1.4M161.4 283.7v1.4M20.45 284.69h1.4M161.4 284.69h-1.4M20.45 294.52h1.4M161.4 294.52h-1.4M20.45 304.75h1.4M161.4 304.75h-1.4M20.45 315.42h1.4M161.4 315.42h-1.4M20.45 326.56h1.4M161.4 326.56h-1.4M20.45 338.22h1.4M161.4 338.22h-1.4M20.45 350.45h1.4M161.4 350.45h-1.4M20.45 363.31h1.4M161.4 363.31h-1.4M20.45 376.87h1.4M161.4 376.87h-1.4M20.45 391.19h1.4M161.4 391.19h-1.4M20.45 383.93h0.8M161.4 383.93h-0.8M20.45 370h0.8M161.4 370h-0.8M20.45 356.8h0.8M161.4 356.8h-0.8M20.45 344.27h0.8M161.4 344.27h-0.8M20.45 332.33h0.8M161.4 332.33h-0.8M20.45 320.93h0.8M161.4 320.93h-0.8M20.45 310.03h0.8M161.4 310.03h-0.8M20.45 299.58h0.8M161.4 299.58h-0.8M20.45 289.56h0.8M161.4 289.56h-0.8" stroke="#5a5a5a" stroke-width="0.5" fill="none"/>
<g clip-path="url(#c5)" fill="none" stroke-linejoin="miter" stroke-linecap="butt">
<polyline points="20.5,317 20.5,331.3 23.1,331.9 25.9,332.4 28.2,334.7 38.3,334.7 39.5,337.5 73.5,337.5 73.5,341.2 88.4,341.2 88.4,350.8 135.2,350.8 135.2,353.9 148.1,353.9 152.4,356.5 156.7,359.7 158.8,361.8 161.5,361.8" stroke="#0072BD" stroke-width="1.15"/>
<polyline points="20.5,288 24,295 27,298 30,300.5 35.8,302 41,302.6 43.1,304 46.2,304.7 48.3,306.2 49.4,309.3 52.5,311.4 55.7,313.5 58.8,315.6 60.9,319.7 63,322.9 65.1,325 68.2,327.1 70,329 72.8,332.5 75.6,337.4 78.5,341 80.6,343.1 83.4,345.2 85.5,348.7 87,352.3 89.1,355.8 91.2,359.3 93.3,362.9 94.7,365 103.9,365.7 106.7,367.1 111,369.6 116.6,371.2 126.6,372.3 161.5,372.3" stroke="#D95319" stroke-width="1.15"/>
<polyline points="20.5,286 21.5,289 22,292.2 23.1,295.6 24.2,297.8 25.9,299 28.2,300.1 30.4,301.2 35,302.1 39.5,302.3 44,302.9 47,304.6 49.4,306 59.8,309.3 68.2,312.4 70,313.4 80.6,313.4 83.4,318.4 84.1,323.3 85.5,328.2 87,333.2 88.4,336.7 90.5,338.8 91.9,342.4 93.3,345.2 94.7,348 96.1,350.8 97.5,353.7 100.4,356.5 103.2,358.6 106.7,360 109.5,362.1 112.4,363.6 116.6,364.3 161.5,364.3" stroke="#EDB120" stroke-width="1.15"/>
<polyline points="20.5,285 22,288 25,290.5 161.5,291.2" stroke="#7E2F8E" stroke-width="1.15"/>
<polyline points="20.5,284.5 22.5,286.8 48.5,287.3 49.5,289 51.9,293.3 161.5,293.8" stroke="#77AC30" stroke-width="1.1" stroke-dasharray="2 0.9 0.7 0.9"/>
<polyline points="20.5,285 22,288 25,289.3 45.1,289.3 45.5,290.1 81.8,291 82,298.2 161.5,298.2" stroke="#4DBEEE" stroke-width="1.15" stroke-opacity="0.85"/>
<polyline points="20.45,284 161.4,284" stroke="#A2142F" stroke-width="1.1" stroke-opacity="0.6"/>
<polyline points="20.5,286 24,290 26.4,295 57.7,295 57.7,299.2 161.5,299.2" stroke="#0072BD" stroke-width="1.15" stroke-dasharray="3.2 2.2"/>
<polyline points="20.5,322.3 21,331.3 22,337 23.1,339.8 25.9,340.3 27.6,342.6 49.6,342.6 52,346 55,351 141.6,351 142.7,351.7 149.2,352.6 151.3,355.4 152.4,359.7 154.5,368.3 156.7,372.6 158.8,380 159.9,388.6 161,394 161.3,396" stroke="#FF0000" stroke-width="1.3"/>
</g>
<text x="20.45" y="401" font-size="4.2" text-anchor="middle" fill="#141414" textLength="2.2" lengthAdjust="spacingAndGlyphs">0</text>
<text x="34.55" y="401" font-size="4.2" text-anchor="middle" fill="#141414" textLength="6.59" lengthAdjust="spacingAndGlyphs">100</text>
<text x="48.64" y="401" font-size="4.2" text-anchor="middle" fill="#141414" textLength="6.59" lengthAdjust="spacingAndGlyphs">200</text>
<text x="62.73" y="401" font-size="4.2" text-anchor="middle" fill="#141414" textLength="6.59" lengthAdjust="spacingAndGlyphs">300</text>
<text x="76.83" y="401" font-size="4.2" text-anchor="middle" fill="#141414" textLength="6.59" lengthAdjust="spacingAndGlyphs">400</text>
<text x="90.93" y="401" font-size="4.2" text-anchor="middle" fill="#141414" textLength="6.59" lengthAdjust="spacingAndGlyphs">500</text>
<text x="105.02" y="401" font-size="4.2" text-anchor="middle" fill="#141414" textLength="6.59" lengthAdjust="spacingAndGlyphs">600</text>
<text x="119.12" y="401" font-size="4.2" text-anchor="middle" fill="#141414" textLength="6.59" lengthAdjust="spacingAndGlyphs">700</text>
<text x="133.21" y="401" font-size="4.2" text-anchor="middle" fill="#141414" textLength="6.59" lengthAdjust="spacingAndGlyphs">800</text>
<text x="147.31" y="401" font-size="4.2" text-anchor="middle" fill="#141414" textLength="6.59" lengthAdjust="spacingAndGlyphs">900</text>
<text x="161.4" y="401" font-size="4.2" text-anchor="middle" fill="#141414" textLength="8.78" lengthAdjust="spacingAndGlyphs">1000</text>
<text x="90.92" y="408.4" font-size="4.8" text-anchor="middle" fill="#141414">No. of Iterations</text>
<text x="19.05" y="286.09" font-size="4.2" text-anchor="end" fill="#141414" textLength="4.39" lengthAdjust="spacingAndGlyphs">52</text>
<text x="19.05" y="295.92" font-size="4.2" text-anchor="end" fill="#141414" textLength="4.39" lengthAdjust="spacingAndGlyphs">50</text>
<text x="19.05" y="306.15" font-size="4.2" text-anchor="end" fill="#141414" textLength="4.39" lengthAdjust="spacingAndGlyphs">48</text>
<text x="19.05" y="316.82" font-size="4.2" text-anchor="end" fill="#141414" textLength="4.39" lengthAdjust="spacingAndGlyphs">46</text>
<text x="19.05" y="327.96" font-size="4.2" text-anchor="end" fill="#141414" textLength="4.39" lengthAdjust="spacingAndGlyphs">44</text>
<text x="19.05" y="339.62" font-size="4.2" text-anchor="end" fill="#141414" textLength="4.39" lengthAdjust="spacingAndGlyphs">42</text>
<text x="19.05" y="351.85" font-size="4.2" text-anchor="end" fill="#141414" textLength="4.39" lengthAdjust="spacingAndGlyphs">40</text>
<text x="19.05" y="364.71" font-size="4.2" text-anchor="end" fill="#141414" textLength="4.39" lengthAdjust="spacingAndGlyphs">38</text>
<text x="19.05" y="378.27" font-size="4.2" text-anchor="end" fill="#141414" textLength="4.39" lengthAdjust="spacingAndGlyphs">36</text>
<text x="19.05" y="392.59" font-size="4.2" text-anchor="end" fill="#141414" textLength="4.39" lengthAdjust="spacingAndGlyphs">34</text>
<text x="12.5" y="339.9" font-size="4.8" text-anchor="middle" fill="#141414" transform="rotate(-90 12.5 339.9)">Best fitness value</text>
<rect x="21.2" y="343.5" width="39.7" height="50.7" fill="#fff" stroke="#6a6a6a" stroke-width="0.6"/>
<line x1="23.4" y1="347.35" x2="37" y2="347.35" stroke="#0072BD" stroke-width="1.6" stroke-opacity="0.75"/>
<text x="38.4" y="349" font-size="4.25" fill="#141414" textLength="5.61" lengthAdjust="spacingAndGlyphs">AO</text>
<line x1="23.4" y1="352.77" x2="37" y2="352.77" stroke="#D95319" stroke-width="1.6" stroke-opacity="0.75"/>
<text x="38.4" y="354.42" font-size="4.25" fill="#141414" textLength="8.19" lengthAdjust="spacingAndGlyphs">PSO</text>
<line x1="23.4" y1="358.19" x2="37" y2="358.19" stroke="#EDB120" stroke-width="1.6" stroke-opacity="0.75"/>
<text x="38.4" y="359.84" font-size="4.25" fill="#141414" textLength="9.7" lengthAdjust="spacingAndGlyphs">GWO</text>
<line x1="23.4" y1="363.61" x2="37" y2="363.61" stroke="#7E2F8E" stroke-width="1.6" stroke-opacity="0.75"/>
<text x="38.4" y="365.26" font-size="4.25" fill="#141414" textLength="10.78" lengthAdjust="spacingAndGlyphs">AVOA</text>
<line x1="23.4" y1="369.03" x2="37" y2="369.03" stroke="#77AC30" stroke-width="1.55" stroke-dasharray="2 0.9 0.7 0.9" stroke-opacity="0.75"/>
<text x="38.4" y="370.68" font-size="4.25" fill="#141414" textLength="10.78" lengthAdjust="spacingAndGlyphs">EOSA</text>
<line x1="23.4" y1="374.45" x2="37" y2="374.45" stroke="#4DBEEE" stroke-width="1.6" stroke-opacity="0.85"/>
<text x="38.4" y="376.1" font-size="4.25" fill="#141414" textLength="7.98" lengthAdjust="spacingAndGlyphs">RSA</text>
<line x1="23.4" y1="379.87" x2="37" y2="379.87" stroke="#A2142F" stroke-width="1.55" stroke-opacity="0.6"/>
<text x="38.4" y="381.52" font-size="4.25" fill="#141414" textLength="8.62" lengthAdjust="spacingAndGlyphs">GND</text>
<line x1="23.4" y1="385.29" x2="37" y2="385.29" stroke="#0072BD" stroke-width="1.6" stroke-dasharray="3.2 2.2" stroke-opacity="0.75"/>
<text x="38.4" y="386.94" font-size="4.25" fill="#141414" textLength="11.64" lengthAdjust="spacingAndGlyphs">DMOA</text>
<line x1="23.4" y1="390.71" x2="37" y2="390.71" stroke="#FF0000" stroke-width="1.75" stroke-opacity="0.75"/>
<text x="38.4" y="392.36" font-size="4.25" fill="#141414" textLength="20.26" lengthAdjust="spacingAndGlyphs">GNDDMOA</text>
<clipPath id="c6"><rect x="204" y="282.7" width="141.2" height="113.2"/></clipPath>
<text x="274.6" y="282.3" font-size="5" font-weight="bold" text-anchor="middle" fill="#1a1a1a">Statlog Dataset</text>
<rect x="204.3" y="283.7" width="140.6" height="111.2" fill="none" stroke="#5a5a5a" stroke-width="0.6"/>
<path d="M204.3 394.9v-1.4M204.3 283.7v1.4M218.36 394.9v-1.4M218.36 283.7v1.4M232.42 394.9v-1.4M232.42 283.7v1.4M246.48 394.9v-1.4M246.48 283.7v1.4M260.54 394.9v-1.4M260.54 283.7v1.4M274.6 394.9v-1.4M274.6 283.7v1.4M288.66 394.9v-1.4M288.66 283.7v1.4M302.72 394.9v-1.4M302.72 283.7v1.4M316.78 394.9v-1.4M316.78 283.7v1.4M330.84 394.9v-1.4M330.84 283.7v1.4M344.9 394.9v-1.4M344.9 283.7v1.4M204.3 283.7h1.4M344.9 283.7h-1.4M204.3 339.3h1.4M344.9 339.3h-1.4M204.3 394.9h1.4M344.9 394.9h-1.4M204.3 378.16h0.8M344.9 378.16h-0.8M204.3 368.37h0.8M344.9 368.37h-0.8M204.3 361.43h0.8M344.9 361.43h-0.8M204.3 356.04h0.8M344.9 356.04h-0.8M204.3 351.63h0.8M344.9 351.63h-0.8M204.3 347.91h0.8M344.9 347.91h-0.8M204.3 344.69h0.8M344.9 344.69h-0.8M204.3 341.84h0.8M344.9 341.84h-0.8M204.3 322.56h0.8M344.9 322.56h-0.8M204.3 312.77h0.8M344.9 312.77h-0.8M204.3 305.83h0.8M344.9 305.83h-0.8M204.3 300.44h0.8M344.9 300.44h-0.8M204.3 296.03h0.8M344.9 296.03h-0.8M204.3 292.31h0.8M344.9 292.31h-0.8M204.3 289.09h0.8M344.9 289.09h-0.8M204.3 286.24h0.8M344.9 286.24h-0.8" stroke="#5a5a5a" stroke-width="0.5" fill="none"/>
<g clip-path="url(#c6)" fill="none" stroke-linejoin="miter" stroke-linecap="butt">
<polyline points="204.5,324.6 210,326 272,327.2 338.5,327.5 340,330.4 345,331.5" stroke="#0072BD" stroke-width="1.15"/>
<polyline points="204.5,325 206.9,326.5 208.4,328.6 211.9,330 219,330.7 230.2,331.4 234.5,332.1 236.6,333.5 244.4,334.2 252,334.7 264.1,335.2 278.2,336.4 283.9,337.1 288.1,338.5 291,339.9 293.8,340.9 345,341.2" stroke="#D95319" stroke-width="1.15"/>
<polyline points="204.5,325 210,326.8 250,327.9 263.4,328.3 263.4,330.4 267.7,331.4 278.2,332.1 283.9,332.8 345,333.2" stroke="#EDB120" stroke-width="1.15"/>
<polyline points="204.5,324.6 210,326.2 345,327.2" stroke="#7E2F8E" stroke-width="1.15"/>
<polyline points="204.5,324.6 210,326.4 345,327.9" stroke="#77AC30" stroke-width="1.1" stroke-dasharray="2 0.9 0.7 0.9"/>
<polyline points="204.5,324.6 210,325.6 345,326.4" stroke="#4DBEEE" stroke-width="1.15" stroke-opacity="0.85"/>
<polyline points="204.3,324.4 344.9,324.6" stroke="#A2142F" stroke-width="1.1" stroke-opacity="0.6"/>
<polyline points="204.5,324.8 210,326.3 250,327.9 345,328.7" stroke="#0072BD" stroke-width="1.15" stroke-dasharray="3.2 2.2"/>
<polyline points="204.5,324.8 210,325.9 250,327.2 272,327.5 318.1,327.8 322.4,328.9 328.9,331.5 330,334 334.2,339 337.5,341.1 345,342.2" stroke="#FF0000" stroke-width="1.3"/>
</g>
<text x="204.3" y="401" font-size="4.2" text-anchor="middle" fill="#141414" textLength="2.2" lengthAdjust="spacingAndGlyphs">0</text>
<text x="218.36" y="401" font-size="4.2" text-anchor="middle" fill="#141414" textLength="6.59" lengthAdjust="spacingAndGlyphs">100</text>
<text x="232.42" y="401" font-size="4.2" text-anchor="middle" fill="#141414" textLength="6.59" lengthAdjust="spacingAndGlyphs">200</text>
<text x="246.48" y="401" font-size="4.2" text-anchor="middle" fill="#141414" textLength="6.59" lengthAdjust="spacingAndGlyphs">300</text>
<text x="260.54" y="401" font-size="4.2" text-anchor="middle" fill="#141414" textLength="6.59" lengthAdjust="spacingAndGlyphs">400</text>
<text x="274.6" y="401" font-size="4.2" text-anchor="middle" fill="#141414" textLength="6.59" lengthAdjust="spacingAndGlyphs">500</text>
<text x="288.66" y="401" font-size="4.2" text-anchor="middle" fill="#141414" textLength="6.59" lengthAdjust="spacingAndGlyphs">600</text>
<text x="302.72" y="401" font-size="4.2" text-anchor="middle" fill="#141414" textLength="6.59" lengthAdjust="spacingAndGlyphs">700</text>
<text x="316.78" y="401" font-size="4.2" text-anchor="middle" fill="#141414" textLength="6.59" lengthAdjust="spacingAndGlyphs">800</text>
<text x="330.84" y="401" font-size="4.2" text-anchor="middle" fill="#141414" textLength="6.59" lengthAdjust="spacingAndGlyphs">900</text>
<text x="344.9" y="401" font-size="4.2" text-anchor="middle" fill="#141414" textLength="8.78" lengthAdjust="spacingAndGlyphs">1000</text>
<text x="274.6" y="408.4" font-size="4.8" text-anchor="middle" fill="#141414">No. of Iterations</text>
<text x="202" y="286.9" font-size="3.8" text-anchor="end" fill="#141414">10<tspan font-size="2.7" dy="-2.3" dx="0.3">4</tspan></text>
<text x="202" y="342.5" font-size="3.8" text-anchor="end" fill="#141414">10<tspan font-size="2.7" dy="-2.3" dx="0.3">3</tspan></text>
<text x="202" y="398.1" font-size="3.8" text-anchor="end" fill="#141414">10<tspan font-size="2.7" dy="-2.3" dx="0.3">2</tspan></text>
<text x="193.65" y="339.9" font-size="4.8" text-anchor="middle" fill="#141414" transform="rotate(-90 193.65 339.9)">Best fitness value</text>
<rect x="206" y="341.9" width="39.7" height="50" fill="#fff" stroke="#6a6a6a" stroke-width="0.6"/>
<line x1="208.2" y1="345.55" x2="221.8" y2="345.55" stroke="#0072BD" stroke-width="1.6" stroke-opacity="0.75"/>
<text x="223.2" y="347.2" font-size="4.25" fill="#141414" textLength="5.61" lengthAdjust="spacingAndGlyphs">AO</text>
<line x1="208.2" y1="351.05" x2="221.8" y2="351.05" stroke="#D95319" stroke-width="1.6" stroke-opacity="0.75"/>
<text x="223.2" y="352.7" font-size="4.25" fill="#141414" textLength="8.19" lengthAdjust="spacingAndGlyphs">PSO</text>
<line x1="208.2" y1="356.55" x2="221.8" y2="356.55" stroke="#EDB120" stroke-width="1.6" stroke-opacity="0.75"/>
<text x="223.2" y="358.2" font-size="4.25" fill="#141414" textLength="9.7" lengthAdjust="spacingAndGlyphs">GWO</text>
<line x1="208.2" y1="362.05" x2="221.8" y2="362.05" stroke="#7E2F8E" stroke-width="1.6" stroke-opacity="0.75"/>
<text x="223.2" y="363.7" font-size="4.25" fill="#141414" textLength="10.78" lengthAdjust="spacingAndGlyphs">AVOA</text>
<line x1="208.2" y1="367.55" x2="221.8" y2="367.55" stroke="#77AC30" stroke-width="1.55" stroke-dasharray="2 0.9 0.7 0.9" stroke-opacity="0.75"/>
<text x="223.2" y="369.2" font-size="4.25" fill="#141414" textLength="10.78" lengthAdjust="spacingAndGlyphs">EOSA</text>
<line x1="208.2" y1="373.05" x2="221.8" y2="373.05" stroke="#4DBEEE" stroke-width="1.6" stroke-opacity="0.85"/>
<text x="223.2" y="374.7" font-size="4.25" fill="#141414" textLength="7.98" lengthAdjust="spacingAndGlyphs">RSA</text>
<line x1="208.2" y1="378.55" x2="221.8" y2="378.55" stroke="#A2142F" stroke-width="1.55" stroke-opacity="0.6"/>
<text x="223.2" y="380.2" font-size="4.25" fill="#141414" textLength="8.62" lengthAdjust="spacingAndGlyphs">GND</text>
<line x1="208.2" y1="384.05" x2="221.8" y2="384.05" stroke="#0072BD" stroke-width="1.6" stroke-dasharray="3.2 2.2" stroke-opacity="0.75"/>
<text x="223.2" y="385.7" font-size="4.25" fill="#141414" textLength="11.64" lengthAdjust="spacingAndGlyphs">DMOA</text>
<line x1="208.2" y1="389.55" x2="221.8" y2="389.55" stroke="#FF0000" stroke-width="1.75" stroke-opacity="0.75"/>
<text x="223.2" y="391.2" font-size="4.25" fill="#141414" textLength="20.26" lengthAdjust="spacingAndGlyphs">GNDDMOA</text>
<clipPath id="c7"><rect x="20.15" y="420.1" width="141.55" height="113.1"/></clipPath>
<text x="90.92" y="418.8" font-size="5" font-weight="bold" text-anchor="middle" fill="#1a1a1a">Vowel Dataset</text>
<rect x="20.45" y="421.1" width="140.95" height="111.1" fill="none" stroke="#5a5a5a" stroke-width="0.6"/>
<path d="M20.45 532.2v-1.4M20.45 421.1v1.4M34.55 532.2v-1.4M34.55 421.1v1.4M48.64 532.2v-1.4M48.64 421.1v1.4M62.73 532.2v-1.4M62.73 421.1v1.4M76.83 532.2v-1.4M76.83 421.1v1.4M90.93 532.2v-1.4M90.93 421.1v1.4M105.02 532.2v-1.4M105.02 421.1v1.4M119.12 532.2v-1.4M119.12 421.1v1.4M133.21 532.2v-1.4M133.21 421.1v1.4M147.31 532.2v-1.4M147.31 421.1v1.4M161.4 532.2v-1.4M161.4 421.1v1.4M20.45 421.97h1.4M161.4 421.97h-1.4M20.45 444.47h1.4M161.4 444.47h-1.4M20.45 467.74h1.4M161.4 467.74h-1.4M20.45 491.83h1.4M161.4 491.83h-1.4M20.45 516.79h1.4M161.4 516.79h-1.4M20.45 527.03h0.8M161.4 527.03h-0.8M20.45 521.89h0.8M161.4 521.89h-0.8M20.45 511.72h0.8M161.4 511.72h-0.8M20.45 506.69h0.8M161.4 506.69h-0.8M20.45 501.7h0.8M161.4 501.7h-0.8M20.45 496.75h0.8M161.4 496.75h-0.8M20.45 486.94h0.8M161.4 486.94h-0.8M20.45 482.09h0.8M161.4 482.09h-0.8M20.45 477.27h0.8M161.4 477.27h-0.8M20.45 472.49h0.8M161.4 472.49h-0.8M20.45 463.03h0.8M161.4 463.03h-0.8M20.45 458.34h0.8M161.4 458.34h-0.8M20.45 453.69h0.8M161.4 453.69h-0.8M20.45 449.07h0.8M161.4 449.07h-0.8M20.45 439.91h0.8M161.4 439.91h-0.8M20.45 435.38h0.8M161.4 435.38h-0.8M20.45 430.88h0.8M161.4 430.88h-0.8M20.45 426.41h0.8M161.4 426.41h-0.8" stroke="#5a5a5a" stroke-width="0.5" fill="none"/>
<g clip-path="url(#c7)" fill="none" stroke-linejoin="miter" stroke-linecap="butt">
<polyline points="20.5,456.7 49.4,456.7 49.4,458.8 51.5,458.8 51.5,477.9 52.5,478 144.9,478 150.2,479.5 153.5,482.7 156.7,487 158.8,491.3 161.5,491.3" stroke="#0072BD" stroke-width="1.15"/>
<polyline points="20.5,424 25,427 30,428 59.8,430.6 63,430.6 65,433.7 67.2,439 68.2,441.7 78.7,441.7 80.8,442.5 87,443.2 91.2,443.8 93.4,447 95.5,451.3 98.7,456.7 102,459.9 105.2,463.1 109.5,465.3 112.7,469.6 115.9,473.9 118,478.4 122.3,483.8 126.6,490.2 130.9,495.6 135.2,502 138.4,507.4 142.7,510.6 148.1,513.2 154.5,514.9 161.5,516" stroke="#D95319" stroke-width="1.15"/>
<polyline points="20.5,426 21.1,427.5 25.3,431.6 29.5,437.9 32.6,443.2 36.8,449.4 41,451.5 47.3,454.7 53.6,458.8 62,462 66.1,466.2 69.3,470.3 75.5,473.5 80.8,475.6 85,478.3 87,484.6 88,489.5 90.2,495.6 93.4,497.8 97.7,498.8 100.9,501 106.2,503.1 111.6,506.3 117,508.5 123.4,511.7 127.7,514.9 133,520.3 139.5,523.5 144.9,526.7 150.2,528.2 161.5,528.2" stroke="#EDB120" stroke-width="1.15"/>
<polyline points="20.5,424 29.5,426.4 31.6,428.5 88,428.5 91.2,432 161.5,432" stroke="#7E2F8E" stroke-width="1.15"/>
<polyline points="20.5,425 30,428 59.8,432.7 70.3,434.4 161.5,434.6" stroke="#77AC30" stroke-width="1.1" stroke-dasharray="2 0.9 0.7 0.9"/>
<polyline points="20.5,424 25,426 30,428 88,428.5 90,431 161.5,431" stroke="#4DBEEE" stroke-width="1.15" stroke-opacity="0.85"/>
<polyline points="20.45,421.3 161.4,421.3" stroke="#A2142F" stroke-width="1.1" stroke-opacity="0.6"/>
<polyline points="20.5,424 30,428 49.4,431.2 161.5,431.2" stroke="#0072BD" stroke-width="1.15" stroke-dasharray="3.2 2.2"/>
<polyline points="20.5,456.8 21,462.5 22,463 22.5,465 23.2,472.6 23.5,480 24,484.2 60.9,484.2 142.7,484.4 144.9,485.3 148.1,488.1 150.2,491.3 152.4,493.5 154.5,497.8 156.2,514.9 158.8,522.4 161,531.8" stroke="#FF0000" stroke-width="1.3"/>
</g>
<text x="20.45" y="538.3" font-size="4.2" text-anchor="middle" fill="#141414" textLength="2.2" lengthAdjust="spacingAndGlyphs">0</text>
<text x="34.55" y="538.3" font-size="4.2" text-anchor="middle" fill="#141414" textLength="6.59" lengthAdjust="spacingAndGlyphs">100</text>
<text x="48.64" y="538.3" font-size="4.2" text-anchor="middle" fill="#141414" textLength="6.59" lengthAdjust="spacingAndGlyphs">200</text>
<text x="62.73" y="538.3" font-size="4.2" text-anchor="middle" fill="#141414" textLength="6.59" lengthAdjust="spacingAndGlyphs">300</text>
<text x="76.83" y="538.3" font-size="4.2" text-anchor="middle" fill="#141414" textLength="6.59" lengthAdjust="spacingAndGlyphs">400</text>
<text x="90.93" y="538.3" font-size="4.2" text-anchor="middle" fill="#141414" textLength="6.59" lengthAdjust="spacingAndGlyphs">500</text>
<text x="105.02" y="538.3" font-size="4.2" text-anchor="middle" fill="#141414" textLength="6.59" lengthAdjust="spacingAndGlyphs">600</text>
<text x="119.12" y="538.3" font-size="4.2" text-anchor="middle" fill="#141414" textLength="6.59" lengthAdjust="spacingAndGlyphs">700</text>
<text x="133.21" y="538.3" font-size="4.2" text-anchor="middle" fill="#141414" textLength="6.59" lengthAdjust="spacingAndGlyphs">800</text>
<text x="147.31" y="538.3" font-size="4.2" text-anchor="middle" fill="#141414" textLength="6.59" lengthAdjust="spacingAndGlyphs">900</text>
<text x="161.4" y="538.3" font-size="4.2" text-anchor="middle" fill="#141414" textLength="8.78" lengthAdjust="spacingAndGlyphs">1000</text>
<text x="90.92" y="545.7" font-size="4.8" text-anchor="middle" fill="#141414">No. of Iterations</text>
<text x="19.05" y="423.37" font-size="4.2" text-anchor="end" fill="#141414" textLength="6.59" lengthAdjust="spacingAndGlyphs">155</text>
<text x="19.05" y="445.87" font-size="4.2" text-anchor="end" fill="#141414" textLength="6.59" lengthAdjust="spacingAndGlyphs">150</text>
<text x="19.05" y="469.14" font-size="4.2" text-anchor="end" fill="#141414" textLength="6.59" lengthAdjust="spacingAndGlyphs">145</text>
<text x="19.05" y="493.23" font-size="4.2" text-anchor="end" fill="#141414" textLength="6.59" lengthAdjust="spacingAndGlyphs">140</text>
<text x="19.05" y="518.19" font-size="4.2" text-anchor="end" fill="#141414" textLength="6.59" lengthAdjust="spacingAndGlyphs">135</text>
<text x="9.85" y="477.25" font-size="4.8" text-anchor="middle" fill="#141414" transform="rotate(-90 9.85 477.25)">Best fitness value</text>
<rect x="21.8" y="480.3" width="39.7" height="50.7" fill="#fff" stroke="#6a6a6a" stroke-width="0.6"/>
<line x1="24" y1="484.25" x2="37.6" y2="484.25" stroke="#0072BD" stroke-width="1.6" stroke-opacity="0.75"/>
<text x="39" y="485.9" font-size="4.25" fill="#141414" textLength="5.61" lengthAdjust="spacingAndGlyphs">AO</text>
<line x1="24" y1="489.66" x2="37.6" y2="489.66" stroke="#D95319" stroke-width="1.6" stroke-opacity="0.75"/>
<text x="39" y="491.31" font-size="4.25" fill="#141414" textLength="8.19" lengthAdjust="spacingAndGlyphs">PSO</text>
<line x1="24" y1="495.07" x2="37.6" y2="495.07" stroke="#EDB120" stroke-width="1.6" stroke-opacity="0.75"/>
<text x="39" y="496.72" font-size="4.25" fill="#141414" textLength="9.7" lengthAdjust="spacingAndGlyphs">GWO</text>
<line x1="24" y1="500.48" x2="37.6" y2="500.48" stroke="#7E2F8E" stroke-width="1.6" stroke-opacity="0.75"/>
<text x="39" y="502.13" font-size="4.25" fill="#141414" textLength="10.78" lengthAdjust="spacingAndGlyphs">AVOA</text>
<line x1="24" y1="505.89" x2="37.6" y2="505.89" stroke="#77AC30" stroke-width="1.55" stroke-dasharray="2 0.9 0.7 0.9" stroke-opacity="0.75"/>
<text x="39" y="507.54" font-size="4.25" fill="#141414" textLength="10.78" lengthAdjust="spacingAndGlyphs">EOSA</text>
<line x1="24" y1="511.3" x2="37.6" y2="511.3" stroke="#4DBEEE" stroke-width="1.6" stroke-opacity="0.85"/>
<text x="39" y="512.95" font-size="4.25" fill="#141414" textLength="7.98" lengthAdjust="spacingAndGlyphs">RSA</text>
<line x1="24" y1="516.71" x2="37.6" y2="516.71" stroke="#A2142F" stroke-width="1.55" stroke-opacity="0.6"/>
<text x="39" y="518.36" font-size="4.25" fill="#141414" textLength="8.62" lengthAdjust="spacingAndGlyphs">GND</text>
<line x1="24" y1="522.12" x2="37.6" y2="522.12" stroke="#0072BD" stroke-width="1.6" stroke-dasharray="3.2 2.2" stroke-opacity="0.75"/>
<text x="39" y="523.77" font-size="4.25" fill="#141414" textLength="11.64" lengthAdjust="spacingAndGlyphs">DMOA</text>
<line x1="24" y1="527.53" x2="37.6" y2="527.53" stroke="#FF0000" stroke-width="1.75" stroke-opacity="0.75"/>
<text x="39" y="529.18" font-size="4.25" fill="#141414" textLength="20.26" lengthAdjust="spacingAndGlyphs">GNDDMOA</text>
<clipPath id="c8"><rect x="204" y="420.1" width="141.2" height="113.1"/></clipPath>
<text x="274.6" y="418.8" font-size="5" font-weight="bold" text-anchor="middle" fill="#1a1a1a">Wine Dataset</text>
<rect x="204.3" y="421.1" width="140.6" height="111.1" fill="none" stroke="#5a5a5a" stroke-width="0.6"/>
<path d="M204.3 532.2v-1.4M204.3 421.1v1.4M218.36 532.2v-1.4M218.36 421.1v1.4M232.42 532.2v-1.4M232.42 421.1v1.4M246.48 532.2v-1.4M246.48 421.1v1.4M260.54 532.2v-1.4M260.54 421.1v1.4M274.6 532.2v-1.4M274.6 421.1v1.4M288.66 532.2v-1.4M288.66 421.1v1.4M302.72 532.2v-1.4M302.72 421.1v1.4M316.78 532.2v-1.4M316.78 421.1v1.4M330.84 532.2v-1.4M330.84 421.1v1.4M344.9 532.2v-1.4M344.9 421.1v1.4M204.3 428.73h1.4M344.9 428.73h-1.4M204.3 436.94h1.4M344.9 436.94h-1.4M204.3 445.59h1.4M344.9 445.59h-1.4M204.3 454.74h1.4M344.9 454.74h-1.4M204.3 464.44h1.4M344.9 464.44h-1.4M204.3 474.77h1.4M344.9 474.77h-1.4M204.3 485.81h1.4M344.9 485.81h-1.4M204.3 497.67h1.4M344.9 497.67h-1.4M204.3 510.48h1.4M344.9 510.48h-1.4M204.3 524.4h1.4M344.9 524.4h-1.4M204.3 517.29h0.8M344.9 517.29h-0.8M204.3 503.95h0.8M344.9 503.95h-0.8M204.3 491.63h0.8M344.9 491.63h-0.8M204.3 480.19h0.8M344.9 480.19h-0.8M204.3 469.52h0.8M344.9 469.52h-0.8M204.3 459.52h0.8M344.9 459.52h-0.8M204.3 450.1h0.8M344.9 450.1h-0.8M204.3 441.21h0.8M344.9 441.21h-0.8M204.3 432.78h0.8M344.9 432.78h-0.8M204.3 424.78h0.8M344.9 424.78h-0.8" stroke="#5a5a5a" stroke-width="0.5" fill="none"/>
<g clip-path="url(#c8)" fill="none" stroke-linejoin="miter" stroke-linecap="butt">
<polyline points="204.5,424 215,428 240,429 272,431 297.8,431 297.8,433.7 302,433.7 302,437.4 311.7,437.4 311.7,439.5 315,442.8 318.1,446 323.5,449.2 326.7,452.4 331,455.6 334.2,457.8 338.5,459.9 341.7,462 345,464.2" stroke="#0072BD" stroke-width="1.15"/>
<polyline points="204.5,425 206.8,427.1 208.9,433.4 210.4,437 212.5,438.4 214.6,441.9 216,442.6 223.8,442.6 225.2,444.7 232.2,446.1 244,446.4 246.8,448.5 249.6,452 253.2,452.7 255.3,457 258.1,461.2 260.9,461.9 266.6,462.6 272.2,464 275.1,464.7 276.5,469.7 280,471.8 282.1,476 285,479.5 287.1,483.8 289.2,488.7 292,490.1 302.8,491 345,491" stroke="#D95319" stroke-width="1.15"/>
<polyline points="204.5,424 206.8,425.6 208.9,429.9 211.1,432 213.2,434.8 215.3,437.7 218.1,439.8 221,441.2 225.2,441.9 226.6,444.7 230.1,444.7 231.5,446.8 233,449.7 234.4,451.1 237.9,451.8 239.3,453.9 240.7,456 242.1,458.8 243.5,461.2 246.8,463.3 256.7,465.4 258.1,466.8 266.6,468.2 275.1,470.4 283.5,472.5 292,474.6 302.8,477.4 314.6,479.4 345,479.4" stroke="#EDB120" stroke-width="1.15"/>
<polyline points="204.5,424 210,428 217.2,427.7 272,430.3 326.7,430.3 326.7,433.1 330,437.4 345,437.4" stroke="#7E2F8E" stroke-width="1.15"/>
<polyline points="204.5,423 215,426 240,428 272,431 345,431" stroke="#77AC30" stroke-width="1.1" stroke-dasharray="2 0.9 0.7 0.9"/>
<polyline points="204.5,423 210,426 219.3,426.7 296.7,428.8 296.7,431 316,431 316,433.7 328.9,433.7 328.9,436.7 345,436.7" stroke="#4DBEEE" stroke-width="1.15" stroke-opacity="0.85"/>
<polyline points="204.3,421.3 344.9,421.3" stroke="#A2142F" stroke-width="1.1" stroke-opacity="0.6"/>
<polyline points="204.5,424 206,432 219.3,435.2 239.7,435.2 239.7,436.3 301,437.4 345,437.4" stroke="#0072BD" stroke-width="1.15" stroke-dasharray="3.2 2.2"/>
<polyline points="204.5,427 206.1,432 218.1,432.7 232.2,433.3 242.3,433.4 242.8,437.6 298.8,437.6 298.8,443.8 309.6,443.8 309.6,447 321.4,447 321.4,449.2 324.6,449.2 324.6,455.6 328.9,455.6 328.9,463.1 332.1,463.1 332.3,476.8 335.1,477.9 336.2,487 337.9,491.5 338.5,499.4 340.7,502.8 341.3,507.3 342.4,515.2 343.6,523.1 344.1,532.5" stroke="#FF0000" stroke-width="1.3"/>
</g>
<text x="204.3" y="538.3" font-size="4.2" text-anchor="middle" fill="#141414" textLength="2.2" lengthAdjust="spacingAndGlyphs">0</text>
<text x="218.36" y="538.3" font-size="4.2" text-anchor="middle" fill="#141414" textLength="6.59" lengthAdjust="spacingAndGlyphs">100</text>
<text x="232.42" y="538.3" font-size="4.2" text-anchor="middle" fill="#141414" textLength="6.59" lengthAdjust="spacingAndGlyphs">200</text>
<text x="246.48" y="538.3" font-size="4.2" text-anchor="middle" fill="#141414" textLength="6.59" lengthAdjust="spacingAndGlyphs">300</text>
<text x="260.54" y="538.3" font-size="4.2" text-anchor="middle" fill="#141414" textLength="6.59" lengthAdjust="spacingAndGlyphs">400</text>
<text x="274.6" y="538.3" font-size="4.2" text-anchor="middle" fill="#141414" textLength="6.59" lengthAdjust="spacingAndGlyphs">500</text>
<text x="288.66" y="538.3" font-size="4.2" text-anchor="middle" fill="#141414" textLength="6.59" lengthAdjust="spacingAndGlyphs">600</text>
<text x="302.72" y="538.3" font-size="4.2" text-anchor="middle" fill="#141414" textLength="6.59" lengthAdjust="spacingAndGlyphs">700</text>
<text x="316.78" y="538.3" font-size="4.2" text-anchor="middle" fill="#141414" textLength="6.59" lengthAdjust="spacingAndGlyphs">800</text>
<text x="330.84" y="538.3" font-size="4.2" text-anchor="middle" fill="#141414" textLength="6.59" lengthAdjust="spacingAndGlyphs">900</text>
<text x="344.9" y="538.3" font-size="4.2" text-anchor="middle" fill="#141414" textLength="8.78" lengthAdjust="spacingAndGlyphs">1000</text>
<text x="274.6" y="545.7" font-size="4.8" text-anchor="middle" fill="#141414">No. of Iterations</text>
<text x="202.9" y="430.13" font-size="4.2" text-anchor="end" fill="#141414" textLength="8.78" lengthAdjust="spacingAndGlyphs">4000</text>
<text x="202.9" y="438.34" font-size="4.2" text-anchor="end" fill="#141414" textLength="8.78" lengthAdjust="spacingAndGlyphs">3800</text>
<text x="202.9" y="446.99" font-size="4.2" text-anchor="end" fill="#141414" textLength="8.78" lengthAdjust="spacingAndGlyphs">3600</text>
<text x="202.9" y="456.14" font-size="4.2" text-anchor="end" fill="#141414" textLength="8.78" lengthAdjust="spacingAndGlyphs">3400</text>
<text x="202.9" y="465.84" font-size="4.2" text-anchor="end" fill="#141414" textLength="8.78" lengthAdjust="spacingAndGlyphs">3200</text>
<text x="202.9" y="476.17" font-size="4.2" text-anchor="end" fill="#141414" textLength="8.78" lengthAdjust="spacingAndGlyphs">3000</text>
<text x="202.9" y="487.21" font-size="4.2" text-anchor="end" fill="#141414" textLength="8.78" lengthAdjust="spacingAndGlyphs">2800</text>
<text x="202.9" y="499.07" font-size="4.2" text-anchor="end" fill="#141414" textLength="8.78" lengthAdjust="spacingAndGlyphs">2600</text>
<text x="202.9" y="511.88" font-size="4.2" text-anchor="end" fill="#141414" textLength="8.78" lengthAdjust="spacingAndGlyphs">2400</text>
<text x="202.9" y="525.8" font-size="4.2" text-anchor="end" fill="#141414" textLength="8.78" lengthAdjust="spacingAndGlyphs">2200</text>
<text x="191.75" y="477.25" font-size="4.8" text-anchor="middle" fill="#141414" transform="rotate(-90 191.75 477.25)">Best fitness value</text>
<rect x="205.4" y="480.4" width="39.9" height="50.8" fill="#fff" stroke="#6a6a6a" stroke-width="0.6"/>
<line x1="207.6" y1="484.25" x2="221.2" y2="484.25" stroke="#0072BD" stroke-width="1.6" stroke-opacity="0.75"/>
<text x="222.6" y="485.9" font-size="4.25" fill="#141414" textLength="5.61" lengthAdjust="spacingAndGlyphs">AO</text>
<line x1="207.6" y1="489.66" x2="221.2" y2="489.66" stroke="#D95319" stroke-width="1.6" stroke-opacity="0.75"/>
<text x="222.6" y="491.31" font-size="4.25" fill="#141414" textLength="8.19" lengthAdjust="spacingAndGlyphs">PSO</text>
<line x1="207.6" y1="495.07" x2="221.2" y2="495.07" stroke="#EDB120" stroke-width="1.6" stroke-opacity="0.75"/>
<text x="222.6" y="496.72" font-size="4.25" fill="#141414" textLength="9.7" lengthAdjust="spacingAndGlyphs">GWO</text>
<line x1="207.6" y1="500.48" x2="221.2" y2="500.48" stroke="#7E2F8E" stroke-width="1.6" stroke-opacity="0.75"/>
<text x="222.6" y="502.13" font-size="4.25" fill="#141414" textLength="10.78" lengthAdjust="spacingAndGlyphs">AVOA</text>
<line x1="207.6" y1="505.89" x2="221.2" y2="505.89" stroke="#77AC30" stroke-width="1.55" stroke-dasharray="2 0.9 0.7 0.9" stroke-opacity="0.75"/>
<text x="222.6" y="507.54" font-size="4.25" fill="#141414" textLength="10.78" lengthAdjust="spacingAndGlyphs">EOSA</text>
<line x1="207.6" y1="511.3" x2="221.2" y2="511.3" stroke="#4DBEEE" stroke-width="1.6" stroke-opacity="0.85"/>
<text x="222.6" y="512.95" font-size="4.25" fill="#141414" textLength="7.98" lengthAdjust="spacingAndGlyphs">RSA</text>
<line x1="207.6" y1="516.71" x2="221.2" y2="516.71" stroke="#A2142F" stroke-width="1.55" stroke-opacity="0.6"/>
<text x="222.6" y="518.36" font-size="4.25" fill="#141414" textLength="8.62" lengthAdjust="spacingAndGlyphs">GND</text>
<line x1="207.6" y1="522.12" x2="221.2" y2="522.12" stroke="#0072BD" stroke-width="1.6" stroke-dasharray="3.2 2.2" stroke-opacity="0.75"/>
<text x="222.6" y="523.77" font-size="4.25" fill="#141414" textLength="11.64" lengthAdjust="spacingAndGlyphs">DMOA</text>
<line x1="207.6" y1="527.53" x2="221.2" y2="527.53" stroke="#FF0000" stroke-width="1.75" stroke-opacity="0.75"/>
<text x="222.6" y="529.18" font-size="4.25" fill="#141414" textLength="20.26" lengthAdjust="spacingAndGlyphs">GNDDMOA</text>
</svg></body></html>
